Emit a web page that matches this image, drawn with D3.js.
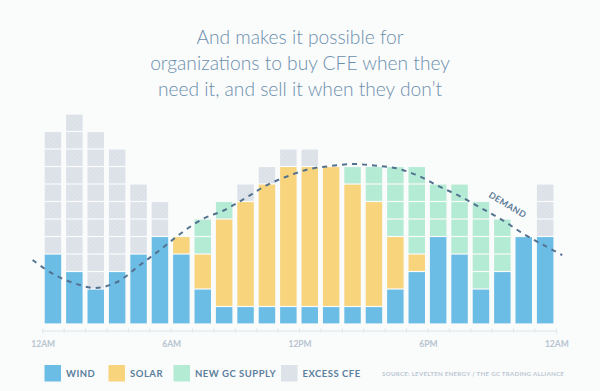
<!DOCTYPE html>
<html>
<head>
<meta charset="utf-8">
<script src="https://cdn.jsdelivr.net/npm/d3@7"></script>
<style>
  html, body { margin: 0; padding: 0; background: #fafbfb; }
  svg { display: block; }
</style>
</head>
<body>
<svg id="chart" width="600" height="391"></svg>
<script>
// ---- data (units of energy per hour) ----
const hours = d3.range(24);
const wind   = [4,3,2,3,4,5,4,2,1,1,1,1,1,1,1,1,2,3,5,4,2,3,5,5];
const solar  = [0,0,0,0,0,0,1,2,5,6,7,8,8,8,7,6,3,1,0,0,0,0,0,0];
const newGC  = [0,0,0,0,0,0,0,2,1,0,0,0,0,0,1,2,4,5,3,4,5,3,0,0];
const excess = [7,9,9,7,4,2,0,0,0,1,1,1,1,0,0,0,0,0,0,0,0,0,0,3];
const demandHour = [-0.45,0.5,1.5,2.5,3.5,4.5,5.5,6.5,7.5,8.5,9.5,10.5,11.5,12.5,13.5,14.5,15.5,16.5,17.5,18.5,19.5,20.5,21.5,22.5,23.5,24.3];
const demand     = [3.66,2.86,2.33,2.06,2.4,3.31,4.23,5.2,6.0,6.5,7.2,7.94,8.46,8.86,9.03,9.14,9.06,8.91,8.51,7.89,7.31,6.63,5.94,5.14,4.46,3.94];
const tickHours  = [0,6,12,18,24];
const tickLabels = ["12AM","6AM","12PM","6PM","12AM"];
const titleLines = ["And makes it possible for","organizations to buy CFE when they","need it, and sell it when they don\u2019t"];
const legendNames = ["WIND","SOLAR","NEW GC SUPPLY","EXCESS CFE"];
const source = "SOURCE: LEVELTEN ENERGY / THE GC TRADING ALLIANCE";

const colors = { wind:"#6cbde6", solar:"#f8d47c", newGC:"#b3ebd4", excess:"#dfe4ea" };

const svg = d3.select("#chart");

// hatch pattern for excess
const defs = svg.append("defs");
const pat = defs.append("pattern").attr("id","hatch").attr("patternUnits","userSpaceOnUse")
  .attr("width",3).attr("height",3).attr("patternTransform","rotate(45)");
pat.append("rect").attr("width",3).attr("height",3).attr("fill",colors.excess);
pat.append("line").attr("x1",0).attr("y1",0).attr("x2",0).attr("y2",3)
  .attr("stroke","#d3dae2").attr("stroke-width",1);

// scales
const x = d3.scaleBand().domain(hours).range([42.25, 555.85]).paddingInner(0.23).paddingOuter(0.115);
const xh = d3.scaleLinear().domain([0,24]).range([42.25, 555.85]);
const y = d3.scaleLinear().domain([0,12]).range([324, 114]);
const unit = y(0) - y(1);

// title
svg.append("g").selectAll("text").data(titleLines).join("text")
  .attr("x", 300).attr("y", (d,i) => 43.5 + i*26.3)
  .attr("text-anchor","middle")
  .attr("font-family","Lato, 'Open Sans', sans-serif").attr("font-weight",300)
  .attr("font-size",19.2).attr("fill","#6a8fad")
  .text(d => d);

// bars
const series = [
  {key:"wind", vals:wind, cells:false},
  {key:"solar", vals:solar, cells:false},
  {key:"newGC", vals:newGC, cells:true},
  {key:"excess", vals:excess, cells:true}
];
const gBars = svg.append("g");
hours.forEach(h => {
  let base = 0;
  series.forEach(s => {
    const v = s.vals[h];
    if (v > 0) {
      const fill = s.key === "excess" ? "url(#hatch)" : colors[s.key];
      if (s.cells) {
        for (let k = 0; k < v; k++) {
          gBars.append("rect")
            .attr("x", x(h)).attr("width", x.bandwidth())
            .attr("y", y(base + k + 1) + 0.6).attr("height", unit - 1.2)
            .attr("fill", fill);
        }
      } else {
        gBars.append("rect")
          .attr("x", x(h)).attr("width", x.bandwidth())
          .attr("y", y(base + v) + 0.6).attr("height", y(base) - y(base + v) - 1.2)
          .attr("fill", fill);
      }
    }
    base += v;
  });
});

// demand line
const line = d3.line().x((d,i) => xh(demandHour[i])).y(d => y(d)).curve(d3.curveCatmullRom);
svg.append("path").datum(demand).attr("d", line)
  .attr("fill","none").attr("stroke","#52728f").attr("stroke-width",2)
  .attr("stroke-dasharray","5,5").attr("stroke-linecap","butt");

svg.append("text").attr("transform","translate(506,207.5) rotate(31)")
  .attr("text-anchor","middle")
  .attr("font-family","Lato, sans-serif").attr("font-weight",700)
  .attr("font-size",8.8).attr("letter-spacing",0.4).attr("fill","#5a7a97")
  .text("DEMAND");

// x axis
const axis = d3.axisBottom(xh).tickValues(d3.range(25)).tickSize(3).tickFormat("");
const gAxis = svg.append("g").attr("transform","translate(0,330.5)").call(axis);
gAxis.select(".domain").attr("stroke","#dfe6ec").attr("stroke-width",1);
gAxis.selectAll(".tick line").attr("stroke","#dfe6ec").attr("y1",-2).attr("y2",2);

svg.append("g").selectAll("text").data(tickHours).join("text")
  .attr("x", d => xh(d) + 1).attr("y", 346.5)
  .attr("text-anchor","middle")
  .attr("font-family","Lato, sans-serif").attr("font-weight",700)
  .attr("font-size",8.5).attr("fill","#b7c5d0")
  .text((d,i) => tickLabels[i]);

// legend
const legX = [44.5, 108.5, 173.5, 281];
const legFill = [colors.wind, colors.solar, colors.newGC, "url(#hatch)"];
const gLeg = svg.append("g");
legendNames.forEach((n,i) => {
  gLeg.append("rect").attr("x", legX[i]).attr("y", 365).attr("width",16.5).attr("height",16.5)
    .attr("fill", legFill[i]);
  gLeg.append("text").attr("x", legX[i] + 21.5).attr("y", 376.8)
    .attr("font-family","Lato, sans-serif").attr("font-weight",700)
    .attr("font-size",9.5).attr("letter-spacing",0.5).attr("fill","#5b7f9c")
    .text(n);
});
svg.append("text").attr("x", 382).attr("y", 375.8)
  .attr("font-family","Lato, sans-serif").attr("font-weight",700)
  .attr("font-size",6.2).attr("letter-spacing",0.25).attr("fill","#bac8d3")
  .text(source);
</script>
</body>
</html>
